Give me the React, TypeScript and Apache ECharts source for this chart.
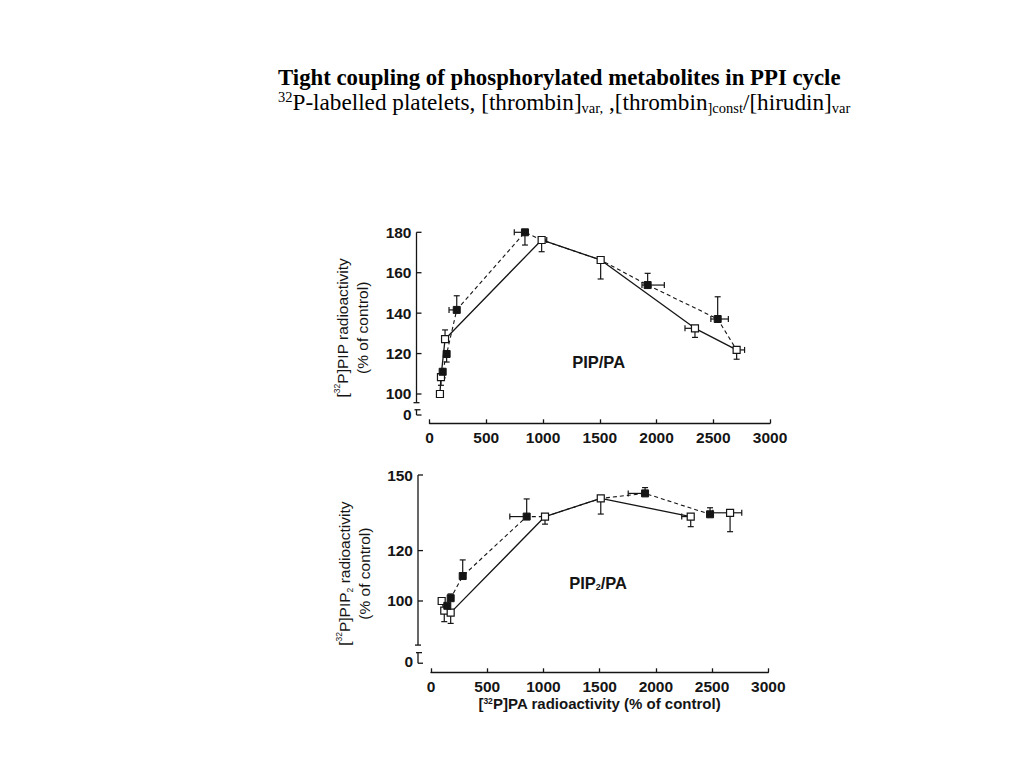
import React, { useEffect, useRef } from "react";
import * as echarts from "echarts";

type Pt = [number, number];
// error extents: [left, right, down, up]
type Err = [number, number, number, number];

const INK = "#151515";
const SANS = "'Liberation Sans', Arial, Helvetica, sans-serif";
const SERIF = "'Liberation Serif', 'Times New Roman', serif";

// shared x axis
const xMin = 0;
const xMax = 3000;
const xStep = 500;

// PIP/PA panel: open squares (solid line) and filled squares (dashed line)
const pipOpen: Pt[] = [
  [92, 100], [101, 108.3], [137, 127.1], [988, 176.2],
  [1508, 166.3], [2339, 132.5], [2706, 121.8],
];
const pipOpenErr: Err[] = [
  [0, 0, 0, 0], [0, 0, 4, 0], [0, 0, 0, 4.6], [0, 45, 5.8, 0],
  [0, 15, 9.4, 0], [88, 0, 4.5, 0], [0, 70, 4.6, 0],
];
const pipFilled: Pt[] = [
  [116, 111], [151, 119.8], [240, 141.6], [841, 180],
  [1922, 153.9], [2539, 137.1],
];
const pipFilledErr: Err[] = [
  [0, 0, 3, 0], [0, 0, 4, 0], [68, 0, 0, 7], [94, 0, 6.3, 0],
  [50, 147, 0, 5.8], [60, 94, 0, 11],
];
// open points the dashed curve also runs through
const pipShared = [3, 4, 6];
const pipYTicks = [100, 120, 140, 160, 180];

// PIP2/PA panel
const pip2Open: Pt[] = [
  [95, 100], [118, 96.2], [175, 95.4], [1014, 133.5],
  [1510, 140.7], [2310, 133.5], [2660, 135],
];
const pip2OpenErr: Err[] = [
  [0, 0, 0, 0], [0, 0, 4.4, 0], [0, 15, 4.3, 0], [0, 30, 3, 0],
  [0, 0, 6.2, 0], [80, 0, 4, 0], [154, 104, 7.5, 0],
];
const pip2Filled: Pt[] = [
  [145, 98.1], [175, 101.1], [282, 109.9], [851, 133.5],
  [1904, 142.7], [2482, 134.4],
];
const pip2FilledErr: Err[] = [
  [0, 0, 0, 0], [0, 0, 0, 1.7], [0, 0, 0, 6.4], [150, 0, 0, 7],
  [150, 0, 0, 2.3], [0, 0, 0, 2.6],
];
const pip2Shared = [3, 4];
const pip2Linked = 6; // first n open points joined by the solid line
const pip2YTicks = [100, 120, 150];

// broken y axes: visible range and where the "0" stub sits
const panels = [
  { yMin: 85.5, yMax: 180, ticks: pipYTicks, zeroAt: 90, breakTop: 95.7, stubTop: 92.2, stubBottom: 89.6 },
  { yMin: 71.7, yMax: 150, ticks: pip2YTicks, zeroAt: 76, breakTop: 82.5, stubTop: 79.5, stubBottom: 75.3 },
];
const Y_OFFSET = 13;

const pathThrough = (filled: Pt[], open: Pt[], shared: number[]): Pt[] =>
  [...filled, ...shared.map((i) => open[i])].sort((p, q) => p[0] - q[0]);

const withErr = (pts: Pt[], errs: Err[]) => pts.map((p, i) => [...p, ...errs[i]]);

const renderErr = (_params: any, api: any) => {
  const x = api.value(0);
  const y = api.value(1);
  const [l, r, d, u] = [api.value(2), api.value(3), api.value(4), api.value(5)];
  const c = api.coord([x, y]);
  const style = { stroke: INK, lineWidth: 1.2 };
  const cap = 3;
  const children: any[] = [];
  const seg = (x1: number, y1: number, x2: number, y2: number) =>
    children.push({ type: "line", shape: { x1, y1, x2, y2 }, style });
  if (u > 0) {
    const p = api.coord([x, y + u]);
    seg(c[0], c[1], p[0], p[1]);
    seg(p[0] - cap, p[1], p[0] + cap, p[1]);
  }
  if (d > 0) {
    const p = api.coord([x, y - d]);
    seg(c[0], c[1], p[0], p[1]);
    seg(p[0] - cap, p[1], p[0] + cap, p[1]);
  }
  if (r > 0) {
    const p = api.coord([x + r, y]);
    seg(c[0], c[1], p[0], p[1]);
    seg(p[0], p[1] - cap, p[0], p[1] + cap);
  }
  if (l > 0) {
    const p = api.coord([x - l, y]);
    seg(c[0], c[1], p[0], p[1]);
    seg(p[0], p[1] - cap, p[0], p[1] + cap);
  }
  return { type: "group", children };
};

const tickFont = { fontFamily: SANS, fontWeight: "bold" as const, fontSize: 15.5, color: INK };

const xAxisFor = (gridIndex: number, name?: string) => ({
  type: "value",
  gridIndex,
  min: xMin,
  max: xMax,
  interval: xStep,
  axisLine: { show: true, onZero: false, lineStyle: { color: INK, width: 1.3 } },
  axisTick: { show: true, inside: true, length: 4, lineStyle: { color: INK, width: 1.3 } },
  axisLabel: { ...tickFont, margin: 6, formatter: (v: number) => String(v) },
  splitLine: { show: false },
  name,
  nameLocation: "middle",
  nameGap: 24,
  nameTextStyle: {
    fontFamily: SANS,
    fontWeight: "bold",
    fontSize: 15,
    color: INK,
    rich: { s: { fontFamily: SANS, fontWeight: "bold", fontSize: 8.5, verticalAlign: "top", lineHeight: 10, color: INK } },
  },
});

const yAxisFor = (gridIndex: number, name: string) => {
  const p = panels[gridIndex];
  return {
    type: "value",
    gridIndex,
    min: p.yMin,
    max: p.yMax,
    offset: Y_OFFSET,
    axisLine: { show: false },
    axisTick: { show: false },
    axisLabel: {
      ...tickFont,
      margin: 5,
      customValues: [p.zeroAt, ...p.ticks],
      formatter: (v: number) => (v === p.zeroAt ? "0" : String(v)),
    },
    splitLine: { show: false },
    name,
    nameLocation: "middle",
    nameRotate: 90,
    nameGap: 44,
    nameTextStyle: {
      fontFamily: SANS,
      fontSize: 15.5,
      lineHeight: 20,
      color: INK,
      rich: {
        s: { fontFamily: SANS, fontSize: 8.5, verticalAlign: "top", lineHeight: 10, color: INK },
        b: { fontFamily: SANS, fontSize: 8.5, verticalAlign: "bottom", lineHeight: 10, color: INK },
      },
    },
  };
};

const panelSeries = (
  gi: number,
  open: Pt[],
  openErr: Err[],
  filled: Pt[],
  filledErr: Err[],
  solid: Pt[],
  dashed: Pt[],
) => [
  {
    type: "custom",
    xAxisIndex: gi,
    yAxisIndex: gi,
    renderItem: renderErr,
    data: withErr(open, openErr),
    encode: { x: 0, y: 1 },
    z: 1,
  },
  {
    type: "custom",
    xAxisIndex: gi,
    yAxisIndex: gi,
    renderItem: renderErr,
    data: withErr(filled, filledErr),
    encode: { x: 0, y: 1 },
    z: 1,
  },
  {
    type: "line",
    xAxisIndex: gi,
    yAxisIndex: gi,
    data: solid,
    symbol: "none",
    lineStyle: { color: INK, width: 1.3 },
    z: 2,
  },
  {
    type: "line",
    xAxisIndex: gi,
    yAxisIndex: gi,
    data: dashed,
    symbol: "none",
    lineStyle: { color: INK, width: 1.1, type: [4, 3] },
    z: 2,
  },
  {
    type: "scatter",
    xAxisIndex: gi,
    yAxisIndex: gi,
    data: open,
    symbol: "rect",
    symbolSize: 7,
    itemStyle: { color: "#fff", borderColor: INK, borderWidth: 1.2, opacity: 1 },
    z: 3,
  },
  {
    type: "scatter",
    xAxisIndex: gi,
    yAxisIndex: gi,
    data: filled,
    symbol: "rect",
    symbolSize: 7,
    itemStyle: { color: INK, borderColor: INK, borderWidth: 1, opacity: 1 },
    z: 3,
  },
];

export default function App() {
  const ref = useRef<HTMLDivElement>(null);

  useEffect(() => {
    if (!ref.current) return;
    const chart = echarts.init(ref.current, null, { renderer: "svg" });

    chart.setOption({
      animation: false,
      backgroundColor: "#ffffff",
      title: [
        {
          text: "Tight coupling of phosphorylated metabolites in PPI cycle",
          left: 278,
          top: 64,
          padding: 0,
          textStyle: { fontFamily: SERIF, fontWeight: "bold", fontSize: 22.8, lineHeight: 26, color: "#000" },
        },
        {
          text:
            "{sup|32}P-labelled platelets, [thrombin]{sub|var,} ,[thrombin{sub|]const}/[hirudin]{sub|var}",
          left: 278,
          top: 89,
          padding: 0,
          textStyle: {
            fontFamily: SERIF,
            fontWeight: "normal",
            fontSize: 23.2,
            lineHeight: 26,
            color: "#000",
            rich: {
              sup: { fontFamily: SERIF, fontSize: 14.5, lineHeight: 14, verticalAlign: "top", color: "#000" },
              sub: { fontFamily: SERIF, fontSize: 14.5, lineHeight: 10, verticalAlign: "bottom", color: "#000" },
            },
          },
        },
      ],
      grid: [
        { left: 429.5, right: 254, top: 232.3, height: 191, outerBoundsMode: "none" },
        { left: 431, right: 255.7, top: 475, height: 197.3, outerBoundsMode: "none" },
      ],
      xAxis: [xAxisFor(0), xAxisFor(1, "[{s|32}P]PA radioactivity (% of control)")],
      yAxis: [
        yAxisFor(0, "[{s|32}P]PIP radioactivity\n(% of control)"),
        yAxisFor(1, "[{s|32}P]PIP{b|2} radioactivity\n(% of control)"),
      ],
      series: [
        ...panelSeries(0, pipOpen, pipOpenErr, pipFilled, pipFilledErr, pipOpen,
          pathThrough(pipFilled, pipOpen, pipShared)),
        ...panelSeries(1, pip2Open, pip2OpenErr, pip2Filled, pip2FilledErr,
          pip2Open.slice(0, pip2Linked), pathThrough(pip2Filled, pip2Open, pip2Shared)),
      ],
    });

    // broken y axis lines, their ticks and the panel captions, placed through the grid scales
    const graphic: any[] = [];
    const lineStyle = { stroke: INK, lineWidth: 1.3 };
    const captions = [
      { at: [1490, 116], text: "PIP/PA" },
      { at: [1486, 107], text: "PIP{b|2}/PA" },
    ];
    panels.forEach((p, gi) => {
      const px = (v: number[]) => chart.convertToPixel({ gridIndex: gi }, v) as number[];
      const ax = px([xMin, p.yMax])[0] - Y_OFFSET;
      const yTop = px([xMin, p.yMax])[1];
      const yBreak = px([xMin, p.breakTop])[1];
      const yStub = px([xMin, p.stubTop])[1];
      const yZero = px([xMin, p.stubBottom])[1];
      const seg = (x1: number, y1: number, x2: number, y2: number) =>
        graphic.push({ type: "line", shape: { x1, y1, x2, y2 }, style: lineStyle, silent: true });
      seg(ax, yTop, ax, yBreak);
      seg(ax - 3, yBreak, ax + 3, yBreak);
      seg(ax - 2, yStub, ax + 4, yStub);
      seg(ax, yStub, ax, yZero);
      seg(ax, yZero, ax + 5, yZero);
      p.ticks.forEach((t) => {
        const ty = px([xMin, t])[1];
        seg(ax, ty, ax + 5, ty);
      });

      const c = px(captions[gi].at);
      graphic.push({
        type: "text",
        x: c[0],
        y: c[1],
        silent: true,
        style: {
          text: captions[gi].text,
          align: "center",
          verticalAlign: "middle",
          fontFamily: SANS,
          fontWeight: "bold",
          fontSize: 16.5,
          fill: INK,
          rich: {
            b: { fontFamily: SANS, fontWeight: "bold", fontSize: 9, verticalAlign: "bottom", lineHeight: 10, fill: INK },
          },
        },
      });
    });
    chart.setOption({ graphic });

    return () => chart.dispose();
  }, []);

  return (
    <div
      ref={ref}
      style={{ position: "absolute", left: 0, top: 0, width: 1024, height: 768, background: "#fff" }}
    />
  );
}
